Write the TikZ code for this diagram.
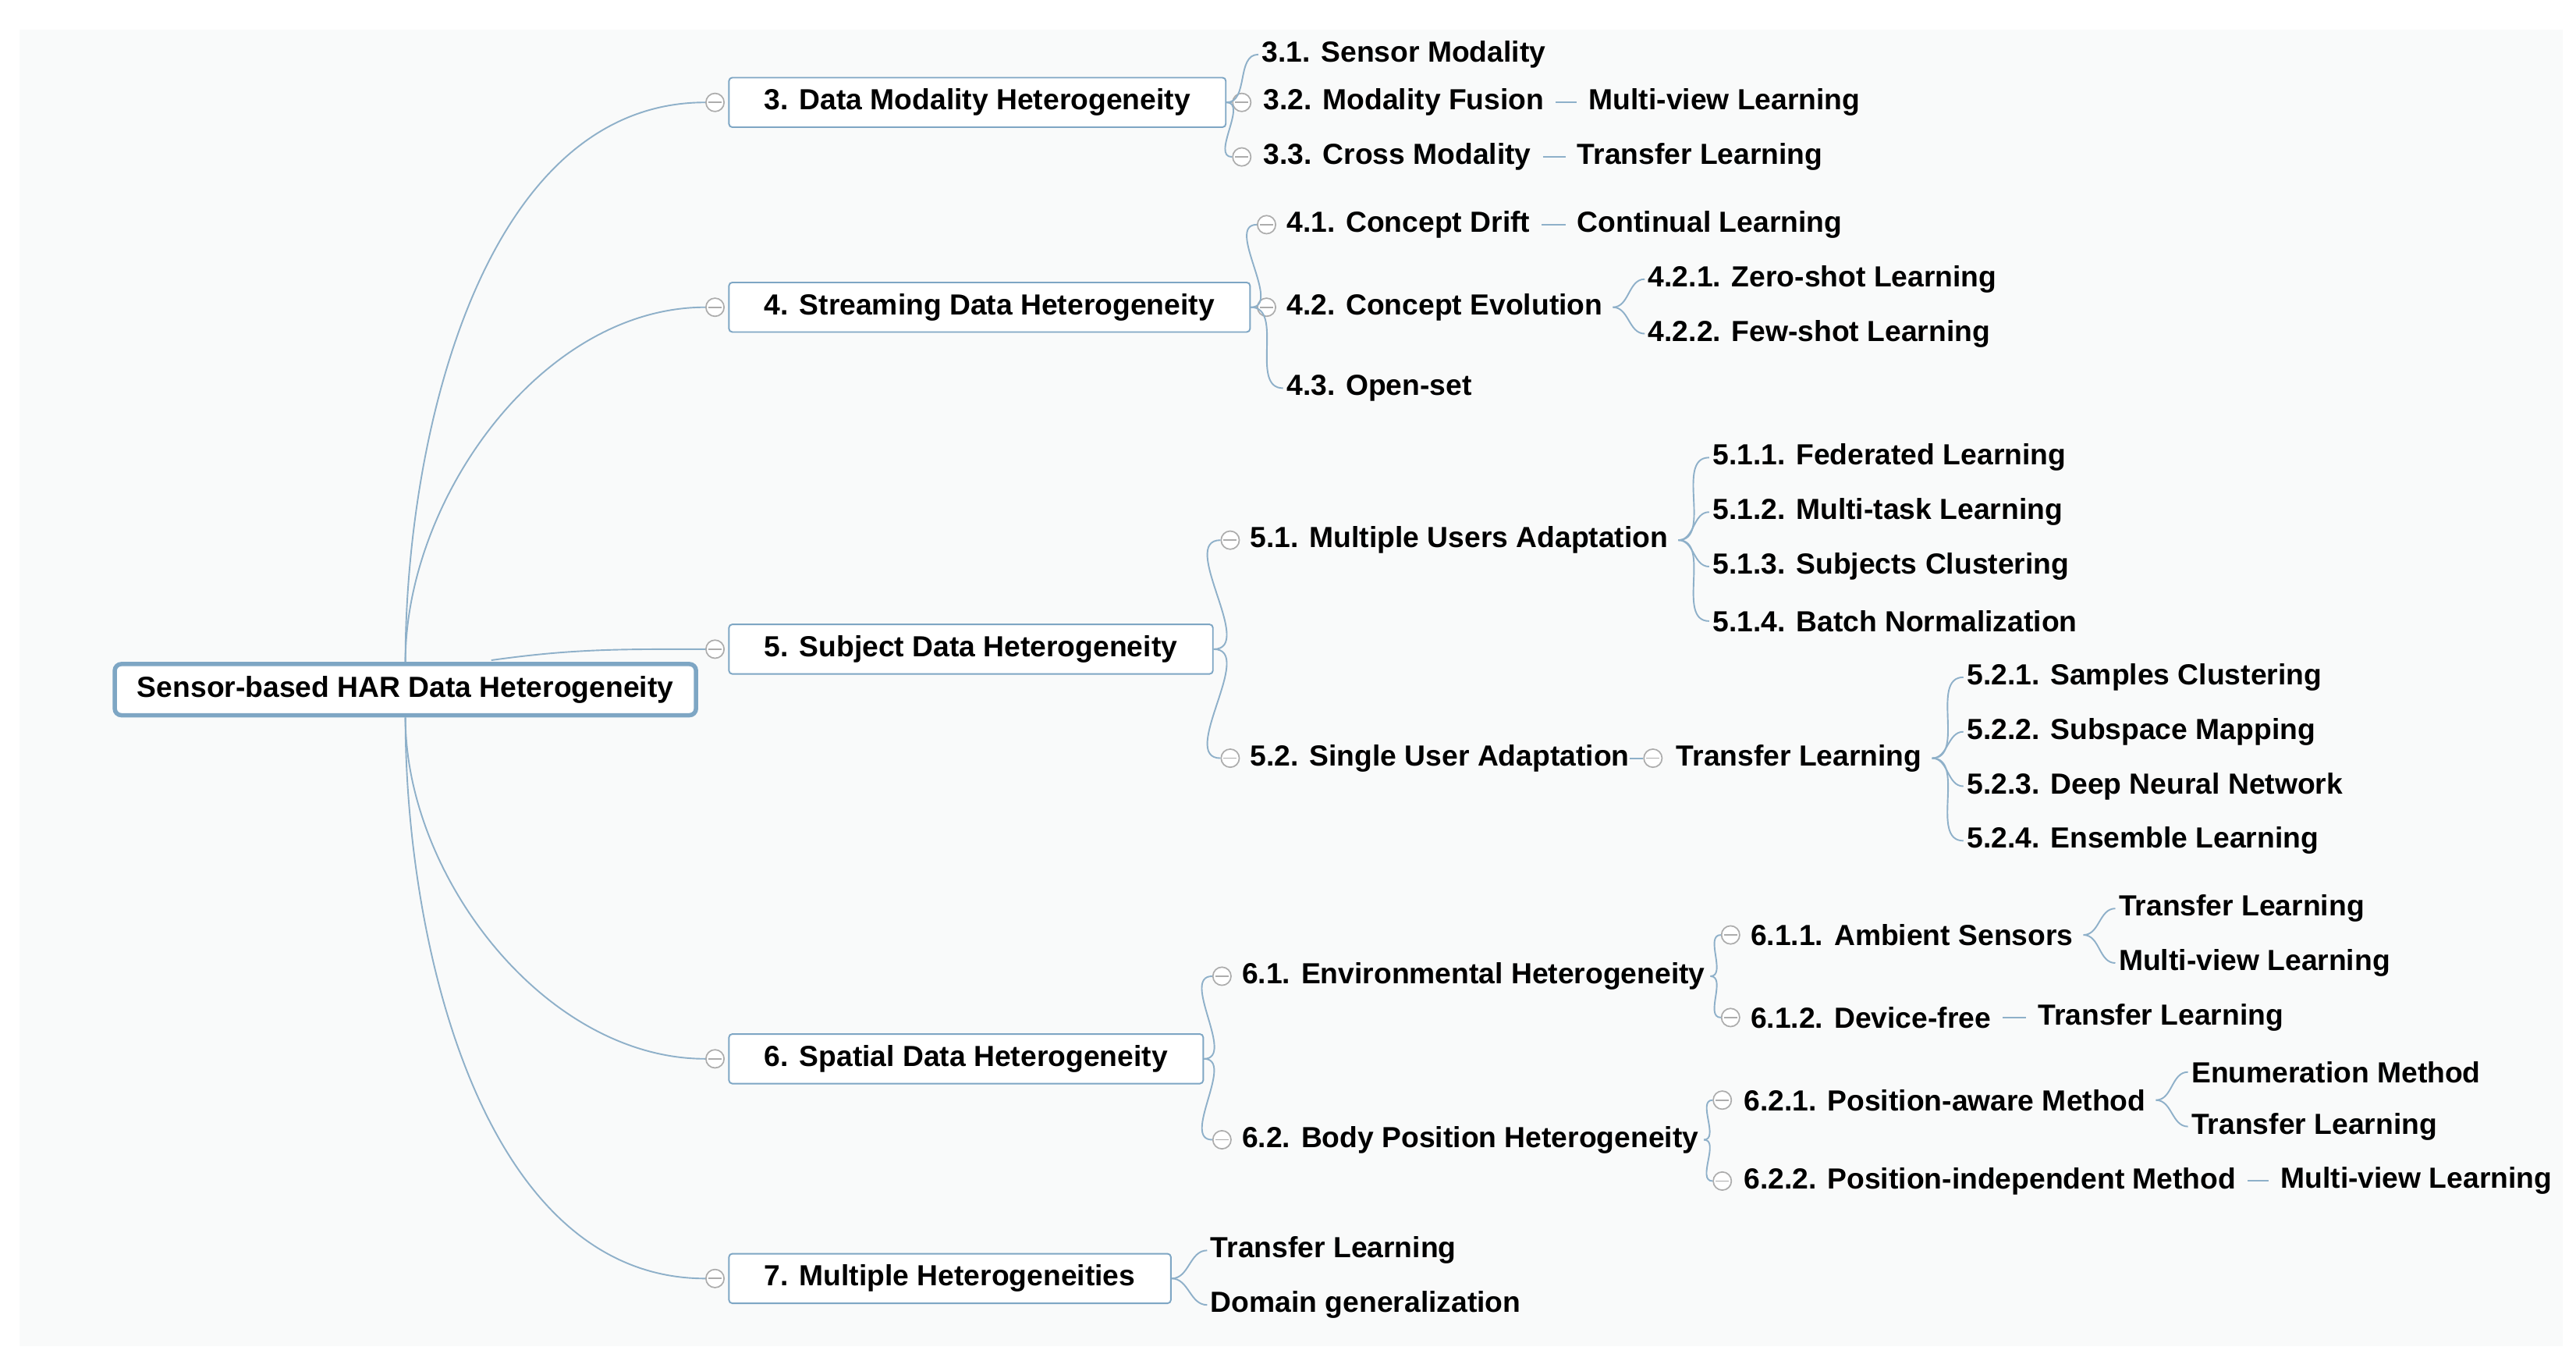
\documentclass[tikz,border=0pt]{standalone}
\usepackage{fontspec}
\setmainfont{Liberation Sans}
\usetikzlibrary{calc}
\definecolor{lc}{HTML}{8EB0C9}
\definecolor{bc}{HTML}{7EA6C4}
\definecolor{bg}{HTML}{F9FAFA}
\tikzset{
 conn/.style={draw=lc, line width=0.9pt},
 txt/.style={anchor=west, inner sep=0pt, font=\bfseries\fontsize{17.6}{20}\selectfont},
 tog/.style={circle, draw=gray!65, fill=white, line width=0.8pt, minimum size=11pt, inner sep=0pt,
   path picture={\draw[gray!65,line width=0.8pt] ([xshift=-4pt]path picture bounding box.center) -- ([xshift=4pt]path picture bounding box.center);}},
 lone/.style={anchor=west, draw=bc, line width=0.9pt, fill=white, rounded corners=2pt, inner xsep=21.5pt, minimum height=30pt, inner ysep=0pt, font=\bfseries\fontsize{17.6}{20}\selectfont},
 rootbox/.style={draw=bc, line width=2.6pt, fill=white, rounded corners=4pt, minimum width=352pt, minimum height=31pt, inner sep=0pt, font=\bfseries\fontsize{17.6}{20}\selectfont}
}
\begin{document}
\begin{tikzpicture}[x=1pt,y=-1pt]
\useasboundingbox (0,0) rectangle (1560,828);
\fill[white] (0,0) rectangle (1560,828);
\fill[bg] (12,18) rectangle (1552,815);
% root and level 1
\node[rootbox] (root) at (245.5,417.5) {Sensor-based HAR Data Heterogeneity};
\node[lone] (b3) at (441,62) {3. Data Modality Heterogeneity};
\node[lone] (b4) at (441,186) {4. Streaming Data Heterogeneity};
\node[lone] (b5) at (441,393) {5. Subject Data Heterogeneity};
\node[lone] (b6) at (441,641) {6. Spatial Data Heterogeneity};
\node[lone] (b7) at (441,774) {7. Multiple Heterogeneities};
\foreach \n/\y in {3/62,4/186,5/393,6/641,7/774} \node[tog] (c\n) at (433,\y) {};
\draw[conn] (root.north) to[out=90,in=180,looseness=0.9] (c3.west);
\draw[conn] (root.north) to[out=90,in=180,looseness=0.9] (c4.west);
\coordinate (r5) at ($(root.north)+(52,-1)$);
\draw[conn] (r5) to[out=8,in=180] (c5.west);
\draw[conn] (root.south) to[out=-90,in=180,looseness=0.9] (c6.west);
\draw[conn] (root.south) to[out=-90,in=180,looseness=0.9] (c7.west);
% group 3
\node[txt] (t31) at (764,33) {3.1. Sensor Modality};
\node[tog] (c32) at (752,62) {};
\node[txt] (t32) at (765,62) {3.2. Modality Fusion};
\node[txt] (t32a) at (962,62) {Multi-view Learning};
\node[tog] (c33) at (752,95) {};
\node[txt] (t33) at (765,95) {3.3. Cross Modality};
\node[txt] (t33a) at (955,95) {Transfer Learning};
\draw[conn] (b3.east) to[out=0,in=180] ([xshift=-2pt]t31.west);
\draw[conn] (b3.east) -- (c32.west);
\draw[conn] (b3.east) to[out=0,in=180] (c33.west);
\draw[conn] ([xshift=7pt]t32.east) -- ([xshift=-7pt]t32a.west);
\draw[conn] ([xshift=7pt]t33.east) -- ([xshift=-7pt]t33a.west);
% group 4
\node[tog] (c41) at (767,136) {};
\node[txt] (t41) at (779,136) {4.1. Concept Drift};
\node[txt] (t41a) at (955,136) {Continual Learning};
\node[tog] (c42) at (767,186) {};
\node[txt] (t42) at (779,186) {4.2. Concept Evolution};
\node[txt] (t421) at (998,169) {4.2.1. Zero-shot Learning};
\node[txt] (t422) at (998,202) {4.2.2. Few-shot Learning};
\node[txt] (t43) at (779,235) {4.3. Open-set};
\draw[conn] (b4.east) to[out=0,in=180] (c41.west);
\draw[conn] (b4.east) -- (c42.west);
\draw[conn] (b4.east) to[out=0,in=180] ([xshift=-2pt]t43.west);
\draw[conn] ([xshift=7pt]t41.east) -- ([xshift=-7pt]t41a.west);
\draw[conn] ([xshift=6pt]t42.east) to[out=0,in=180] ([xshift=-2pt]t421.west);
\draw[conn] ([xshift=6pt]t42.east) to[out=0,in=180] ([xshift=-2pt]t422.west);
% group 5
\node[tog] (c51) at (745,327) {};
\node[txt] (t51) at (757,327) {5.1. Multiple Users Adaptation};
\foreach \i/\y/\s in {1/277/Federated Learning,2/310/Multi-task Learning,3/343/Subjects Clustering,4/376/Batch Normalization}{
  \node[txt] (t51\i) at (1037,\y) {5.1.\i. \s};
  \draw[conn] ([xshift=6pt]t51.east) to[out=0,in=180] ([xshift=-2pt]t51\i.west);
}
\node[tog] (c52) at (745,459) {};
\node[txt] (t52) at (757,459) {5.2. Single User Adaptation};
\node[tog] (c52a) at (1001,459) {};
\node[txt] (t52a) at (1015,459) {Transfer Learning};
\draw[conn] (t52.east) -- (c52a.west);
\foreach \i/\y/\s in {1/410/Samples Clustering,2/443/Subspace Mapping,3/476/Deep Neural Network,4/509/Ensemble Learning}{
  \node[txt] (t52\i) at (1191,\y) {5.2.\i. \s};
  \draw[conn] ([xshift=6pt]t52a.east) to[out=0,in=180] ([xshift=-2pt]t52\i.west);
}
\draw[conn] (b5.east) to[out=0,in=180] (c51.west);
\draw[conn] (b5.east) to[out=0,in=180] (c52.west);
% group 6
\node[tog] (c61) at (740,591) {};
\node[txt] (t61) at (752,591) {6.1. Environmental Heterogeneity};
\node[tog] (c611) at (1048,566) {};
\node[txt] (t611) at (1060,566) {6.1.1. Ambient Sensors};
\node[txt] (t611a) at (1283,550) {Transfer Learning};
\node[txt] (t611b) at (1283,583) {Multi-view Learning};
\node[tog] (c612) at (1048,616) {};
\node[txt] (t612) at (1060,616) {6.1.2. Device-free};
\node[txt] (t612a) at (1234,616) {Transfer Learning};
\node[tog] (c62) at (740,690) {};
\node[txt] (t62) at (752,690) {6.2. Body Position Heterogeneity};
\node[tog] (c621) at (1043,666) {};
\node[txt] (t621) at (1056,666) {6.2.1. Position-aware Method};
\node[txt] (t621a) at (1327,649) {Enumeration Method};
\node[txt] (t621b) at (1327,682) {Transfer Learning};
\node[tog] (c622) at (1043,715) {};
\node[txt] (t622) at (1056,715) {6.2.2. Position-independent Method};
\node[txt] (t622a) at (1381,715) {Multi-view Learning};
\draw[conn] (b6.east) to[out=0,in=180] (c61.west);
\draw[conn] (b6.east) to[out=0,in=180] (c62.west);
\draw[conn] ([xshift=3pt]t61.east) to[out=0,in=180] (c611.west);
\draw[conn] ([xshift=3pt]t61.east) to[out=0,in=180] (c612.west);
\draw[conn] ([xshift=3pt]t62.east) to[out=0,in=180] (c621.west);
\draw[conn] ([xshift=3pt]t62.east) to[out=0,in=180] (c622.west);
\draw[conn] ([xshift=6pt]t611.east) to[out=0,in=180] ([xshift=-2pt]t611a.west);
\draw[conn] ([xshift=6pt]t611.east) to[out=0,in=180] ([xshift=-2pt]t611b.west);
\draw[conn] ([xshift=6pt]t621.east) to[out=0,in=180] ([xshift=-2pt]t621a.west);
\draw[conn] ([xshift=6pt]t621.east) to[out=0,in=180] ([xshift=-2pt]t621b.west);
\draw[conn] ([xshift=7pt]t612.east) -- ([xshift=-7pt]t612a.west);
\draw[conn] ([xshift=7pt]t622.east) -- ([xshift=-7pt]t622a.west);
% group 7
\node[txt] (t71) at (733,757) {Transfer Learning};
\node[txt] (t72) at (733,790) {Domain generalization};
\draw[conn] (b7.east) to[out=0,in=180] ([xshift=-2pt]t71.west);
\draw[conn] (b7.east) to[out=0,in=180] ([xshift=-2pt]t72.west);
\end{tikzpicture}
\end{document}
